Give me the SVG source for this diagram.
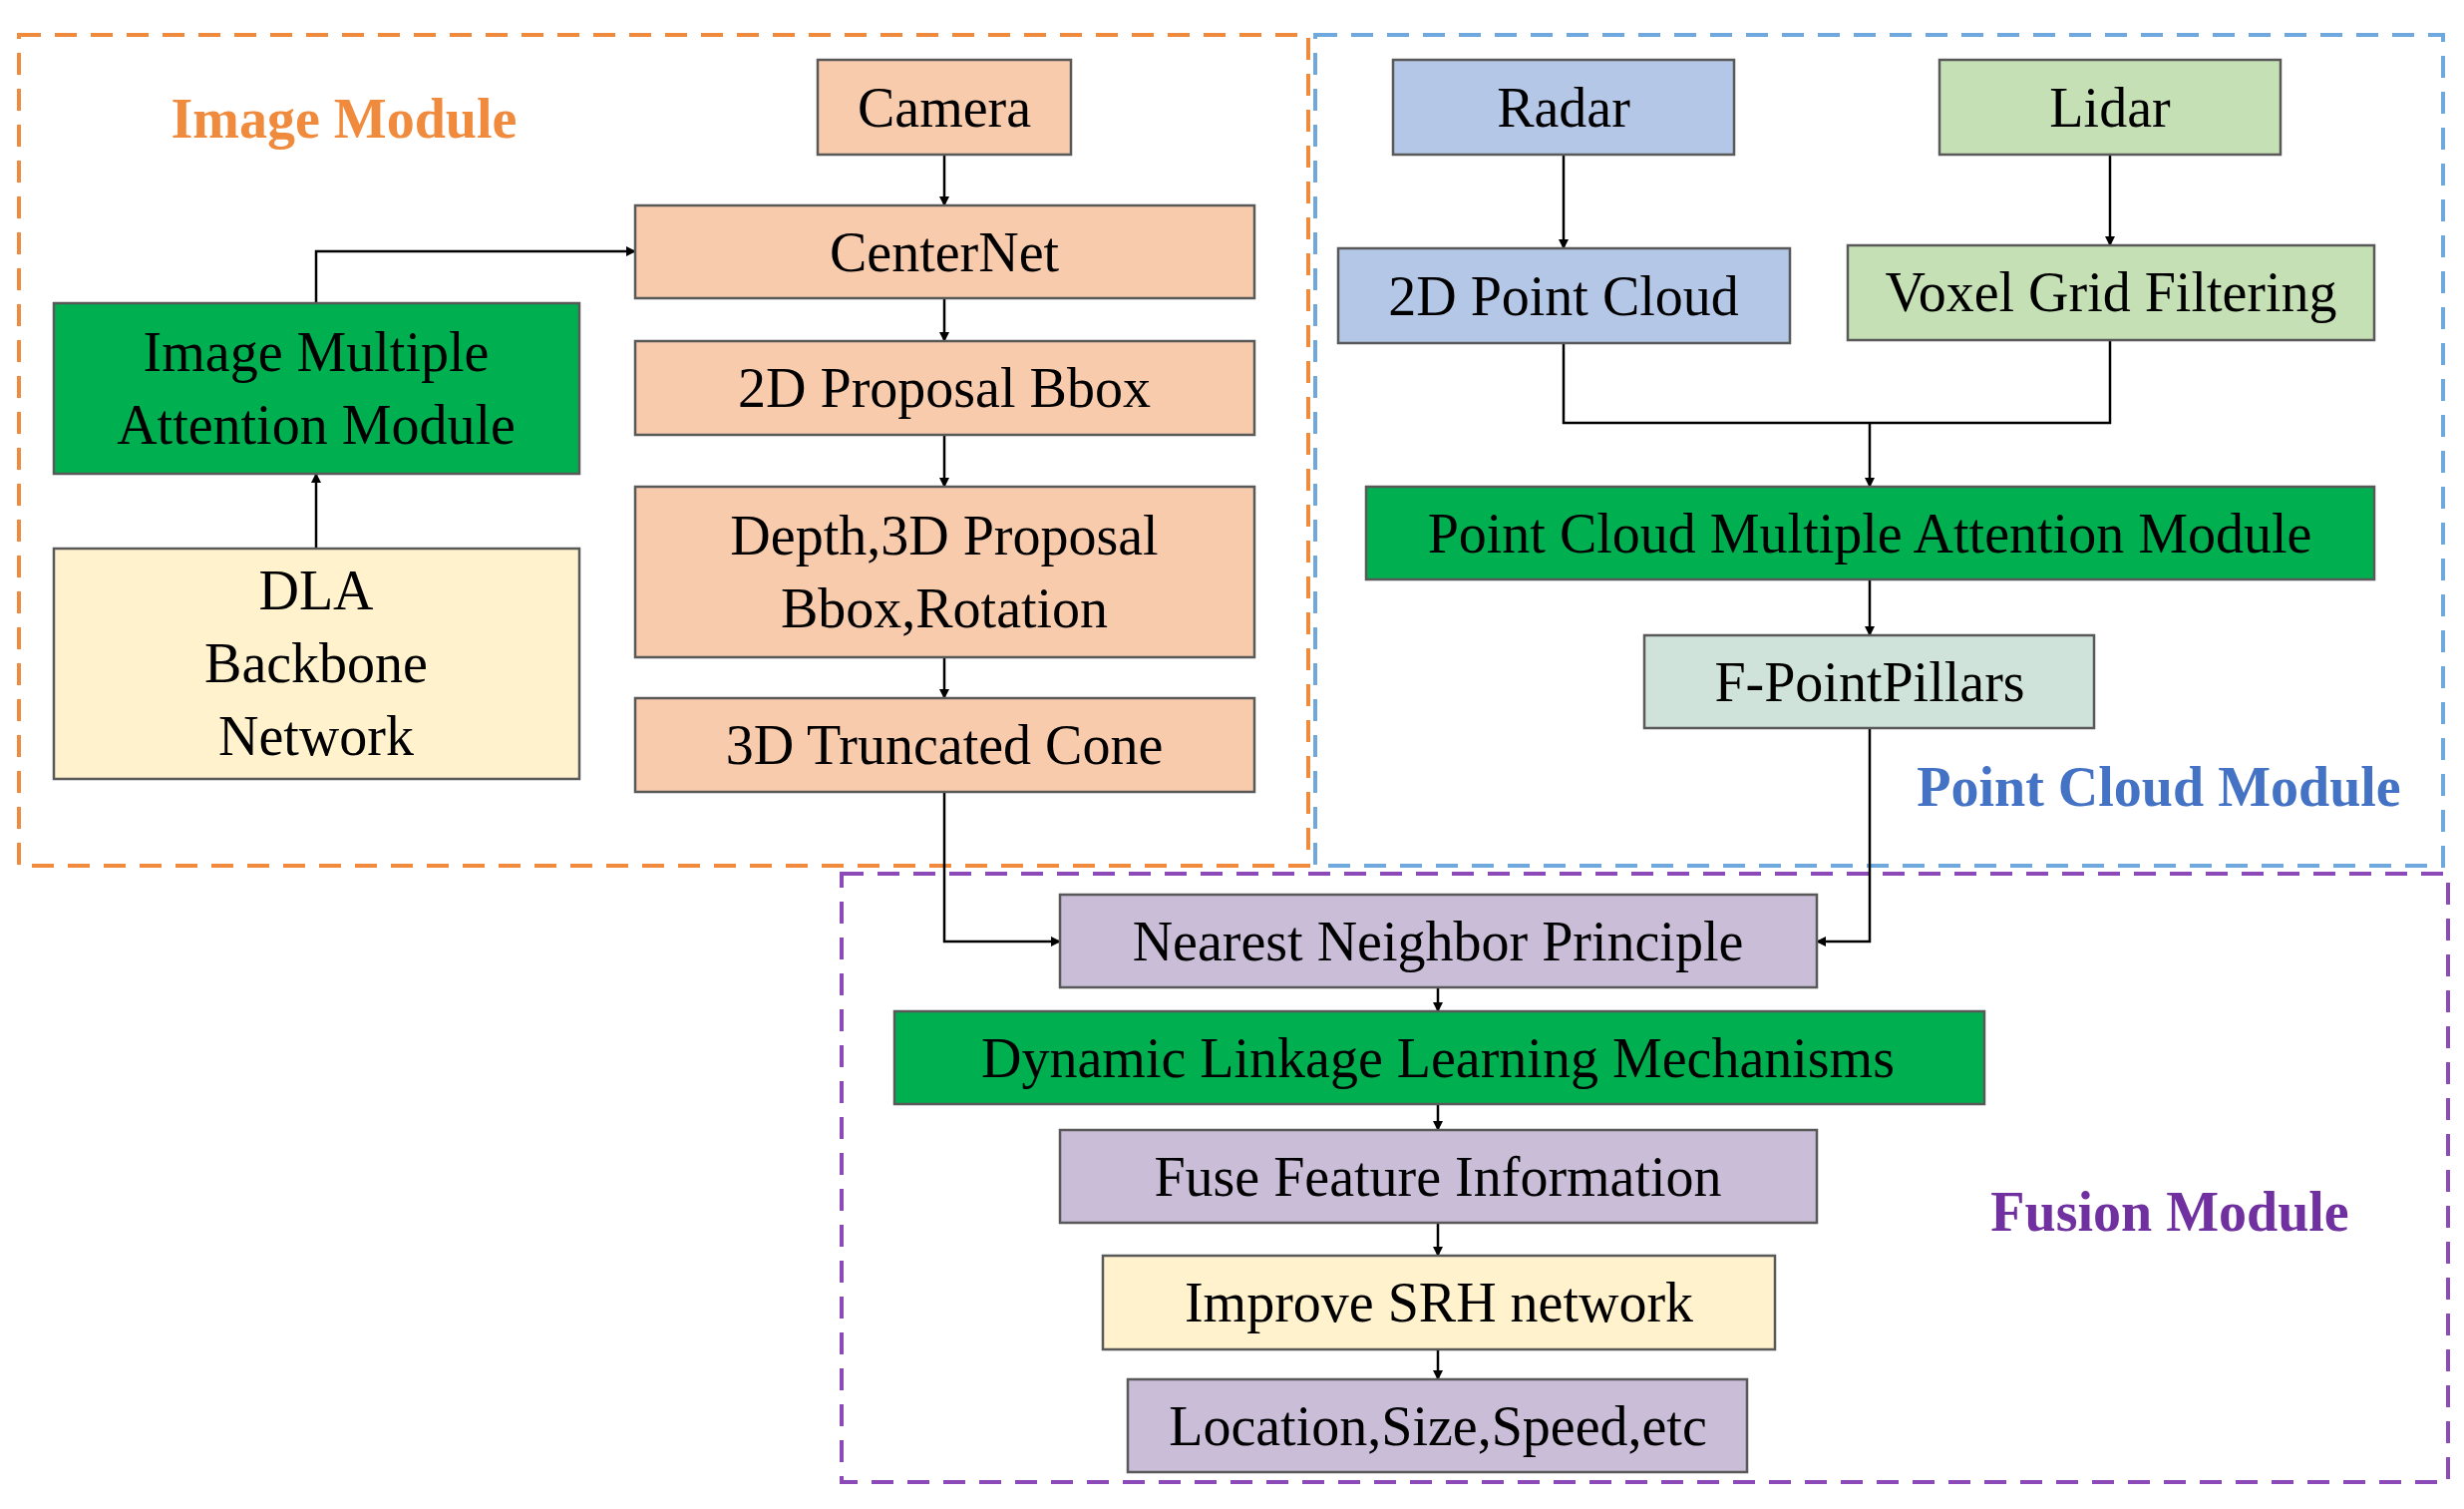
<svg xmlns="http://www.w3.org/2000/svg" width="2471" height="1513" viewBox="0 0 2471 1513">
<style>
.n{stroke:#595959;stroke-width:2.5}
.t{font-family:"Liberation Serif",serif;font-size:56px;fill:#000;text-anchor:middle;dominant-baseline:central}
.lb{font-family:"Liberation Serif",serif;font-size:56px;font-weight:bold;text-anchor:middle;dominant-baseline:central}
.c{fill:none;stroke:#000;stroke-width:2.5;marker-end:url(#a)}
.m{fill:none;stroke-width:4;stroke-dasharray:22,14}
</style>
<defs><marker id="a" markerWidth="10" markerHeight="10" refX="9" refY="5" orient="auto" markerUnits="userSpaceOnUse"><path d="M0,0 L10,5 L0,10 z" fill="#000"/></marker></defs>
<rect width="2471" height="1513" fill="#fff"/>
<g id="modules">
<rect class="m" x="19" y="35" width="1293" height="833" stroke="#F08A3C"/>
<rect class="m" x="1319" y="35" width="1131" height="833" stroke="#6FA8DC"/>
<rect class="m" x="844" y="876" width="1611" height="610" stroke="#8B4AB8"/>
<text class="lb" x="345" y="119" fill="#F08A3C">Image Module</text>
<text class="lb" x="2165" y="789" fill="#4472C4">Point Cloud Module</text>
<text class="lb" x="2176" y="1215" fill="#7030A0">Fusion Module</text>
</g>
<g id="connectors">
<path class="c" d="M947,155 V206"/>
<path class="c" d="M947,299 V342"/>
<path class="c" d="M947,436 V488"/>
<path class="c" d="M947,659 V700"/>
<path class="c" d="M317,550 V475"/>
<path class="c" d="M317,304 V252 H637"/>
<path class="c" d="M1568,155 V249"/>
<path class="c" d="M2116,155 V246"/>
<path fill="none" stroke="#000" stroke-width="2.5" d="M1568,344 V424 H2116 V341"/>
<path class="c" d="M1875,424 V488"/>
<path class="c" d="M1875,581 V637"/>
<path class="c" d="M1875,730 V944 H1822"/>
<path class="c" d="M947,794 V944 H1063"/>
<path class="c" d="M1442,990 V1014"/>
<path class="c" d="M1442,1107 V1133"/>
<path class="c" d="M1442,1226 V1259"/>
<path class="c" d="M1442,1353 V1383"/>
</g>
<g id="camera"><rect class="n" x="820" y="60" width="254" height="95" fill="#F8CBAD"/><text class="t" x="947" y="108">Camera</text></g>
<g id="centernet"><rect class="n" x="637" y="206" width="621" height="93" fill="#F8CBAD"/><text class="t" x="947" y="253">CenterNet</text></g>
<g id="proposal2d"><rect class="n" x="637" y="342" width="621" height="94" fill="#F8CBAD"/><text class="t" x="947" y="389">2D Proposal Bbox</text></g>
<g id="depth"><rect class="n" x="637" y="488" width="621" height="171" fill="#F8CBAD"/><text class="t" x="947" y="537">Depth,3D Proposal</text><text class="t" x="947" y="610">Bbox,Rotation</text></g>
<g id="cone"><rect class="n" x="637" y="700" width="621" height="94" fill="#F8CBAD"/><text class="t" x="947" y="747">3D Truncated Cone</text></g>
<g id="imam"><rect class="n" x="54" y="304" width="527" height="171" fill="#00B050"/><text class="t" x="317" y="353">Image Multiple</text><text class="t" x="317" y="426">Attention Module</text></g>
<g id="dla"><rect class="n" x="54" y="550" width="527" height="231" fill="#FFF2CC"/><text class="t" x="317" y="592">DLA</text><text class="t" x="317" y="665">Backbone</text><text class="t" x="317" y="738">Network</text></g>
<g id="radar"><rect class="n" x="1397" y="60" width="342" height="95" fill="#B4C7E7"/><text class="t" x="1568" y="108">Radar</text></g>
<g id="lidar"><rect class="n" x="1945" y="60" width="342" height="95" fill="#C5E0B4"/><text class="t" x="2116" y="108">Lidar</text></g>
<g id="pc2d"><rect class="n" x="1342" y="249" width="453" height="95" fill="#B4C7E7"/><text class="t" x="1568" y="297">2D Point Cloud</text></g>
<g id="voxel"><rect class="n" x="1853" y="246" width="528" height="95" fill="#C5E0B4"/><text class="t" x="2117" y="293">Voxel Grid Filtering</text></g>
<g id="pcmam"><rect class="n" x="1370" y="488" width="1011" height="93" fill="#00B050"/><text class="t" x="1875" y="535">Point Cloud Multiple Attention Module</text></g>
<g id="fpp"><rect class="n" x="1649" y="637" width="451" height="93" fill="#D0E3DA"/><text class="t" x="1875" y="684">F-PointPillars</text></g>
<g id="nearest"><rect class="n" x="1063" y="897" width="759" height="93" fill="#C9BDD8"/><text class="t" x="1442" y="944">Nearest Neighbor Principle</text></g>
<g id="dynamic"><rect class="n" x="897" y="1014" width="1093" height="93" fill="#00B050" stroke="#00B050"/><text class="t" x="1442" y="1061">Dynamic Linkage Learning Mechanisms</text></g>
<g id="fuse"><rect class="n" x="1063" y="1133" width="759" height="93" fill="#C9BDD8"/><text class="t" x="1442" y="1180">Fuse Feature Information</text></g>
<g id="improve"><rect class="n" x="1106" y="1259" width="674" height="94" fill="#FFF2CC" stroke="#A9B07A"/><text class="t" x="1443" y="1306">Improve SRH network</text></g>
<g id="location"><rect class="n" x="1131" y="1383" width="621" height="93" fill="#C9BDD8"/><text class="t" x="1442" y="1430">Location,Size,Speed,etc</text></g>
</svg>
